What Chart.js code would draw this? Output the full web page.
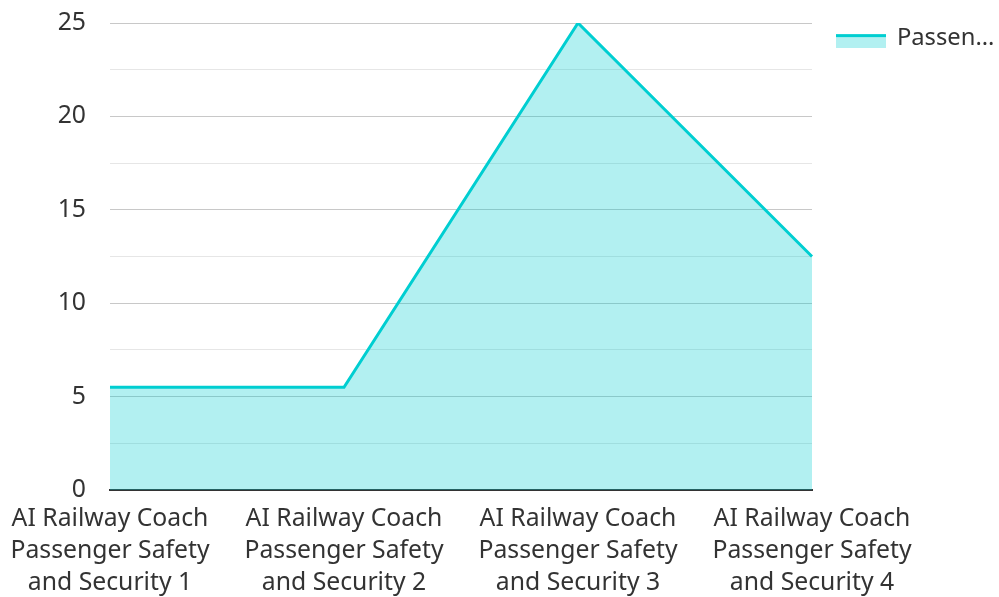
<!DOCTYPE html>
<html lang="en">
<head>
    <meta charset="UTF-8">
    <title>AI Railway Coach</title>
    <script src="https://cdn.jsdelivr.net/npm/chart.js"></script>
    <style>
        html, body {
            height: 100%;
            margin: 0;
            padding: 0;
            background: #fff;
        }
        #chartContainer {
            width: 999px;
            height: 597px;
        }
    </style>
</head>
<body>
    <div id="chartContainer">
        <canvas id="lineChart"></canvas>
    </div>

    <script>
        const categories = [
            ['AI Railway Coach', 'Passenger Safety', 'and Security 1'],
            ['AI Railway Coach', 'Passenger Safety', 'and Security 2'],
            ['AI Railway Coach', 'Passenger Safety', 'and Security 3'],
            ['AI Railway Coach', 'Passenger Safety', 'and Security 4']
        ];
        const seriesName = 'Passenger Safety';
        const seriesValues = [5.5, 5.5, 25, 12.5];
        const legendText = 'Passen...';

        const lineColor = '#00CED1';
        const fillColor = 'rgba(0, 206, 209, 0.3)';
        const fontSize = 24.75;

        // legend swatch: light box with a thick line on top, blank margin on the left
        function makeSwatch() {
            const c = document.createElement('canvas');
            c.width = 75;
            c.height = 20;
            const g = c.getContext('2d');
            g.fillStyle = fillColor;
            g.fillRect(25, 9, 50, 11);
            g.fillStyle = lineColor;
            g.fillRect(25, 6, 50, 3);
            return c;
        }
        const swatch = makeSwatch();

        const ctx = document.getElementById('lineChart').getContext('2d');
        new Chart(ctx, {
            type: 'line',
            data: {
                labels: categories,
                datasets: [{
                    label: seriesName,
                    data: seriesValues,
                    borderColor: lineColor,
                    backgroundColor: fillColor,
                    borderWidth: 3,
                    fill: 'origin',
                    tension: 0,
                    pointRadius: 0,
                    pointHoverRadius: 0
                }]
            },
            options: {
                responsive: true,
                maintainAspectRatio: false,
                animation: false,
                layout: {
                    padding: { top: 18, right: 0, bottom: 0, left: 9 }
                },
                plugins: {
                    legend: {
                        position: 'right',
                        align: 'start',
                        maxWidth: 187,
                        // empty title only pushes the item down a little
                        title: {
                            display: true,
                            text: ' ',
                            font: { size: 1 },
                            padding: 3.5
                        },
                        labels: {
                            usePointStyle: true,
                            pointStyleWidth: 73,
                            color: '#333',
                            font: { family: 'Noto Sans', size: 23.75 },
                            padding: 0,
                            generateLabels: function (chart) {
                                return [{
                                    text: legendText,
                                    pointStyle: swatch,
                                    fillStyle: fillColor,
                                    strokeStyle: lineColor,
                                    lineWidth: 0,
                                    hidden: false,
                                    datasetIndex: 0,
                                    fontColor: '#333'
                                }];
                            }
                        }
                    },
                    tooltip: { enabled: false }
                },
                scales: {
                    x: {
                        grid: { display: false, drawTicks: false },
                        border: { display: true, color: '#333', width: 2 },
                        ticks: {
                            color: '#333',
                            font: { family: 'Noto Sans', size: fontSize, lineHeight: 1.3 },
                            padding: 13,
                            maxRotation: 0,
                            autoSkip: false
                        },
                        afterFit: function (scale) {
                            scale.height = 107;
                            scale.paddingLeft = 110;
                            scale.paddingRight = 0;
                        }
                    },
                    y: {
                        min: 0,
                        max: 25,
                        border: { display: false },
                        grid: {
                            drawTicks: false,
                            lineWidth: 1,
                            color: function (c) {
                                if (c.tick && c.tick.value % 5 === 0) return '#c8c8c8';
                                return '#e6e6e6';
                            }
                        },
                        ticks: {
                            stepSize: 2.5,
                            color: '#333',
                            font: { family: 'Noto Sans', size: fontSize },
                            padding: 24,
                            callback: function (v) {
                                return v % 5 === 0 ? v : '';
                            }
                        },
                        afterFit: function (scale) {
                            scale.paddingTop = 23;
                            scale.paddingBottom = 0;
                        }
                    }
                }
            }
        });
    </script>
</body>
</html>
